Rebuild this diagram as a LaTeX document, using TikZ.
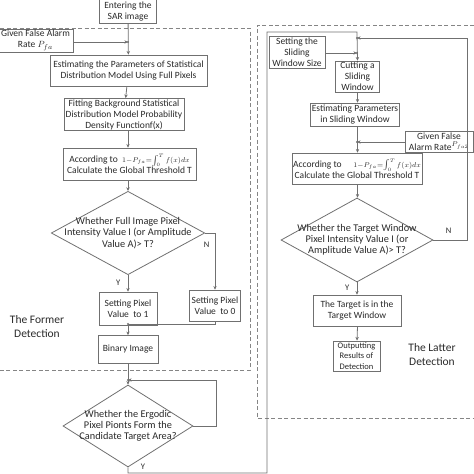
\documentclass[tikz,border=0pt]{standalone}
\usepackage{fontspec}
\setmainfont{Carlito}
\usetikzlibrary{shapes.geometric,arrows.meta}
\definecolor{linec}{HTML}{707070}
\definecolor{textc}{HTML}{2A2A2A}
\begin{document}
\begin{tikzpicture}[x=1pt, y=-1pt, >={Stealth[length=3.6pt,width=3.4pt]},
    every node/.style={text=textc},
    box/.style={draw=linec, line width=0.8pt, fill=white, align=center, inner sep=1pt,
        font=\fontsize{9.5}{11}\selectfont},
    decide/.style={diamond, draw=linec, line width=0.8pt, fill=white, align=center,
        inner xsep=-8pt, inner ysep=-4pt, font=\fontsize{10.3}{11.2}\selectfont},
    flow/.style={draw=linec, line width=0.8pt, ->},
    yn/.style={font=\fontsize{8.5}{9}\selectfont},
    part/.style={draw=linec!85, line width=0.8pt, dash pattern=on 4pt off 2.5pt},
    title/.style={align=center, font=\fontsize{11.5}{14}\selectfont}]
    \useasboundingbox (0,0) rectangle (474,474);

    % the two detection stages
    \draw[part] (0,28) -- (250,28) -- (250,370) -- (0,370);
    \draw[part] (474,25) -- (257,25) -- (257,418) -- (474,418);

    % former detection
    \node[box, minimum width=57, minimum height=24] (sar) at (128,11.5) {Entering the\\SAR image};
    \node[box, minimum width=75, minimum height=23] (pfa) at (35.5,40.5) {Given False Alarm\\Rate $P_{fa}$};
    \node[box, minimum width=157, minimum height=31] (est) at (128.5,70.5) {Estimating the Parameters of Statistical\\Distribution Model Using Full Pixels};
    \node[box, minimum width=120, minimum height=31] (fit) at (124,114.5) {Fitting Background Statistical\\Distribution Model Probability\\Density Functionf(x)};
    \node[box, minimum width=133, minimum height=32] (thr) at (129.5,164) {According to \ $\scriptstyle 1-P_{fa}=\int_0^T f(x)dx$\\Calculate the Global Threshold T};
    \node[decide, aspect=1.84, minimum width=151, minimum height=82] (full) at (128,233) {Whether Full Image Pixel\\Intensity Value I (or Amplitude\\Value A)> T?};
    \node[box, minimum width=58, minimum height=33] (one) at (128,308.5) {Setting Pixel\\Value \ to 1};
    \node[box, minimum width=51, minimum height=31] (zero) at (215,305.5) {Setting Pixel\\Value \ to 0};
    \node[box, minimum width=60, minimum height=28] (bin) at (128,349.5) {Binary Image};
    \node[decide, aspect=1.59, minimum width=130, minimum height=82] (cand) at (128,426) {Whether the Ergodic\\Pixel Pionts Form the\\Candidate Target Area?};
    \node[title] (former) at (37,327) {The Former\\Detection};

    \coordinate (j1) at (128,42);
    \coordinate (j2) at (128,324);
    \coordinate (j3) at (128,380);

    \draw[flow] (sar) -- (est);
    \draw[flow] (pfa.east |- j1) -- (j1);
    \draw[flow] (est) -- (fit);
    \draw[flow] (fit.south -| thr.north) ++(-1.5,0) -- ([xshift=-1.5pt]thr.north);
    \draw[flow] ([xshift=-1.5pt]thr.south) -- (full.north);
    \draw[flow] (full) -- (one) node[yn, pos=0.45, left=4pt] {Y};
    \draw[flow] (full.east) -| (zero.north) node[yn, pos=0.6, left=2pt] {N};
    \draw[draw=linec, line width=0.8pt] (zero.south) |- (j2);
    \draw[flow] (one) -- (bin);
    \draw[flow] (bin) -- (cand);
    \draw[flow] (cand.east) -- ++(23,0) |- (j3);
    \fill[linec] (j1) circle (1.1) (j2) circle (1.1) (j3) circle (1.1);

    % latter detection
    \node[box, minimum width=56, minimum height=32] (win) at (297,52) {Setting the\\Sliding\\Window Size};
    \node[box, minimum width=44, minimum height=31] (cut) at (357.5,76.5) {Cutting a\\Sliding\\Window};
    \node[box, minimum width=88, minimum height=23] (estw) at (355,114.5) {Estimating Parameters\\in Sliding Window};
    \node[box, minimum width=68, minimum height=21] (pfb) at (439,142) {Given False\\Alarm Rate$^{P_{fa2}}$};
    \node[box, minimum width=130, minimum height=31] (thw) at (357,168.5) {According to \quad $\scriptstyle 1-P_{fa}=\int_0^T f(x)dx$\\Calculate the Global Threshold T};
    \node[decide, aspect=1.81, minimum width=152, minimum height=84] (tgtq) at (357,240) {Whether the Target Window\\Pixel Intensity Value I (or\\Amplitude Value A)> T?};
    \node[box, minimum width=88, minimum height=31] (tgt) at (357,310.5) {The Target is in the\\Target Window};
    \node[box, minimum width=47, minimum height=30, inner sep=0pt,
        font=\fontsize{8.5}{10.5}\selectfont] (out) at (356.5,356) {Outputting\\Results of\\Detection};
    \node[title] (latter) at (432,355) {The Latter\\Detection};

    \coordinate (k1) at (357,32);
    \coordinate (k2) at (357,38);
    \coordinate (k3) at (357,53);
    \coordinate (k4) at (357,142);

    \draw[flow] (cand.south) |- (267,473) -- (267,32) -- (k1) -- (cut.north);
    \draw[flow] (win.east |- k3) -- (k3);
    \draw[flow] (tgtq.east) -- (467,240) node[yn, pos=0.45, above=3pt] {N} |- (k2);
    \draw[flow] (cut) -- (estw.north -| cut);
    \draw[flow] (estw.south -| cut) -- (thw.north -| cut);
    \draw[flow] (pfb.west |- k4) -- (k4);
    \draw[flow] (thw.south -| cut) -- (tgtq.north -| cut);
    \draw[flow] (tgtq) -- (tgt) node[yn, pos=0.45, left=4pt] {Y};
    \draw[flow] (tgt.south -| cut) -- (out);
    \node[yn] (ylast) at (143,467) {Y};
    \fill[linec] (k2) circle (1.1) (k3) circle (1.1) (k4) circle (1.1);
\end{tikzpicture}
\end{document}
